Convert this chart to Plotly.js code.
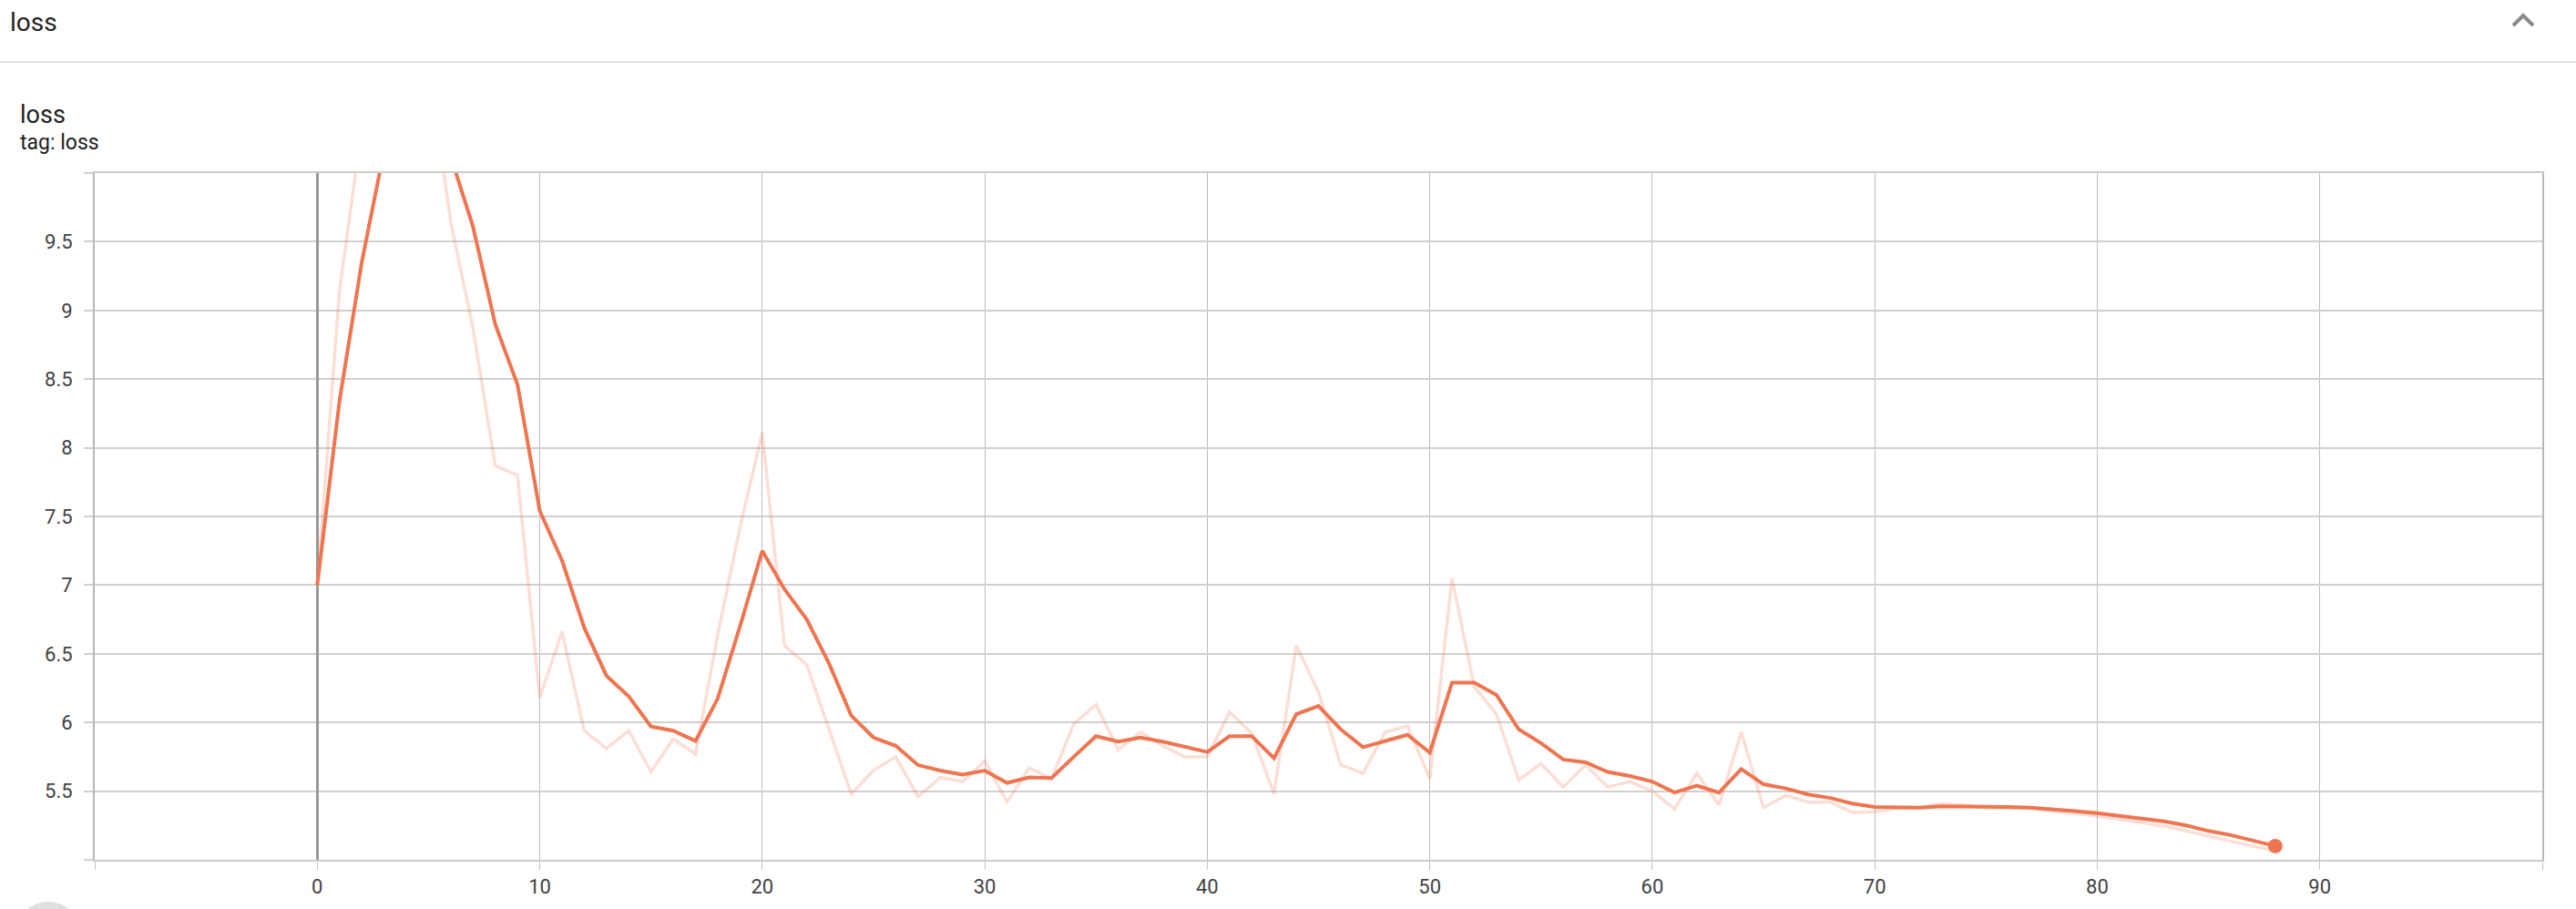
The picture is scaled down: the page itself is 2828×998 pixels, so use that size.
<!DOCTYPE html>
<html>
<head>
<meta charset="utf-8">
<script src="https://cdn.plot.ly/plotly-3.0.1.min.js"></script>
<style>
  html, body { margin: 0; padding: 0; background: #fff; }
  #chart { width: 2828px; height: 998px; }
</style>
</head>
<body>
<div id="chart"></div>
<script>
// ---- data ----
const steps = [0,1,2,3,4,5,6,7,8,9,10,11,12,13,14,15,16,17,18,19,20,21,22,23,24,25,26,27,28,29,30,31,32,33,34,35,36,37,38,39,40,41,42,43,44,45,46,47,48,49,50,51,52,53,54,55,56,57,58,59,60,61,62,63,64,65,66,67,68,69,70,71,72,73,74,75,76,77,78,79,80,81,82,83,84,85,86,87,88];

const lossRaw = [7.00,9.14,10.33,11.0,11.0,10.8,9.64,8.87,7.87,7.80,
  6.18,6.66,5.94,5.81,5.94,5.64,5.88,5.77,6.64,7.42,
  8.11,6.56,6.42,5.95,5.48,5.65,5.75,5.46,5.60,5.57,
  5.72,5.42,5.67,5.59,5.99,6.13,5.80,5.93,5.83,5.75,
  5.75,6.075,5.92,5.48,6.56,6.22,5.69,5.63,5.93,5.975,
  5.59,7.05,6.26,6.06,5.58,5.70,5.53,5.69,5.53,5.57,
  5.50,5.37,5.63,5.40,5.93,5.38,5.47,5.42,5.42,5.345,
  5.35,5.375,5.38,5.41,5.40,5.38,5.38,5.375,5.355,5.34,
  5.32,5.295,5.27,5.245,5.21,5.17,5.135,5.10,5.07];

const lossSmoothed = [7.00,8.34,9.35,10.16,10.5,10.55,10.12,9.61,8.90,8.46,
  7.54,7.18,6.69,6.34,6.19,5.97,5.94,5.865,6.175,6.70,
  7.25,6.97,6.75,6.43,6.05,5.89,5.83,5.69,5.65,5.62,
  5.65,5.56,5.60,5.595,5.75,5.90,5.86,5.89,5.86,5.82,
  5.785,5.90,5.90,5.74,6.06,6.12,5.95,5.82,5.865,5.91,
  5.78,6.29,6.29,6.20,5.95,5.85,5.73,5.71,5.64,5.61,
  5.57,5.49,5.54,5.49,5.66,5.55,5.52,5.476,5.45,5.41,
  5.385,5.38,5.38,5.39,5.39,5.385,5.385,5.38,5.37,5.355,
  5.34,5.32,5.30,5.28,5.25,5.21,5.18,5.14,5.10];

const xTickVals = [-10,0,10,20,30,40,50,60,70,80,90,100];
const xTickText = ['','0','10','20','30','40','50','60','70','80','90',''];
const yTickVals = [5,5.5,6,6.5,7,7.5,8,8.5,9,9.5,10];
const yTickText = ['','5.5','6','6.5','7','7.5','8','8.5','9','9.5',''];

// ---- layout geometry ----
const W = 2828, H = 998;
const M = {l: 104, r: 37, t: 190, b: 54};
const PW = W - M.l - M.r, PH = H - M.t - M.b;
const px = v => (v - M.l) / PW;          // pixel x -> paper
const py = v => (H - M.b - v) / PH;      // pixel y -> paper

const orange = '#ef7550';

const traces = [
  {
    x: steps, y: lossRaw, type: 'scatter', mode: 'lines',
    line: {color: 'rgba(239,117,80,0.24)', width: 3.5},
    hoverinfo: 'skip', showlegend: false
  },
  {
    x: steps, y: lossSmoothed, type: 'scatter', mode: 'lines',
    line: {color: orange, width: 4},
    showlegend: false
  },
  {
    x: [steps[steps.length - 1]], y: [lossSmoothed[lossSmoothed.length - 1]],
    type: 'scatter', mode: 'markers',
    marker: {color: orange, size: 16},
    showlegend: false
  }
];

const layout = {
  width: W, height: H,
  margin: M,
  paper_bgcolor: '#fff', plot_bgcolor: '#fff',
  font: {family: 'Roboto, sans-serif', color: '#424242', size: 22},
  showlegend: false,
  xaxis: {
    range: [-10, 100], tickmode: 'array', tickvals: xTickVals, ticktext: xTickText,
    showgrid: true, gridcolor: '#bdbdbd', gridwidth: 1,
    zeroline: true, zerolinecolor: '#999999', zerolinewidth: 3,
    showline: true, mirror: true, linecolor: '#cccccc', linewidth: 2,
    ticks: 'outside', ticklen: 9, tickwidth: 1, tickcolor: '#c4c4c4',
    tickfont: {family: 'Roboto, sans-serif', size: 22, color: '#424242'},
    fixedrange: true
  },
  yaxis: {
    range: [5, 10], tickmode: 'array', tickvals: yTickVals, ticktext: yTickText,
    showgrid: true, gridcolor: '#d0d0d0', gridwidth: 2,
    zeroline: false,
    showline: true, mirror: true, linecolor: '#b8b8b8', linewidth: 2,
    ticks: 'outside', ticklen: 10, tickwidth: 2, tickcolor: '#d0d0d0',
    ticklabelstandoff: 8,
    tickfont: {family: 'Roboto, sans-serif', size: 22, color: '#424242'},
    fixedrange: true
  },
  shapes: [
    {type: 'line', xref: 'paper', yref: 'paper', x0: px(0), x1: px(W), y0: py(68), y1: py(68),
     line: {color: '#e0e0e0', width: 2}},
    {type: 'path', xref: 'paper', yref: 'paper',
     path: `M ${px(2759)} ${py(28)} L ${px(2770)} ${py(17)} L ${px(2781)} ${py(28)}`,
     line: {color: '#888888', width: 4}},
    {type: 'circle', xref: 'paper', yref: 'paper', x0: px(15), x1: px(91), y0: py(1066), y1: py(990),
     fillcolor: '#e0e0e0', line: {width: 0}}
  ],
  annotations: [
    {text: 'loss', xref: 'paper', yref: 'paper', x: px(9), y: py(6), xanchor: 'left', yanchor: 'top',
     showarrow: false, font: {family: 'Roboto, sans-serif', size: 28, color: '#212121'}},
    {text: 'loss', xref: 'paper', yref: 'paper', x: px(20), y: py(108), xanchor: 'left', yanchor: 'top',
     showarrow: false, font: {family: 'Roboto, sans-serif', size: 27, color: '#212121'}},
    {text: 'tag: loss', xref: 'paper', yref: 'paper', x: px(20), y: py(141), xanchor: 'left', yanchor: 'top',
     showarrow: false, font: {family: 'Roboto, sans-serif', size: 23, color: '#212121'}}
  ]
};

Plotly.newPlot('chart', traces, layout, {displayModeBar: false, responsive: false, staticPlot: true});
</script>
</body>
</html>
